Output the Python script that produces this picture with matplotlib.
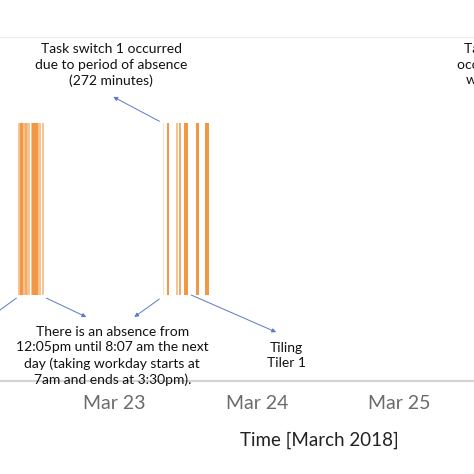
import matplotlib
matplotlib.use("Agg")
import matplotlib.pyplot as plt
import matplotlib.dates as mdates
import pandas as pd

# activity intervals (day, start, end, shade level 0..3)
days = ["2018-03-22"] * 10 + ["2018-03-23"] * 7
starts = ["07:55", "08:19", "08:46", "09:09", "09:22", "10:09", "10:19", "11:17", "11:53", "12:13",
          "08:13", "08:52", "10:22", "10:53", "11:43", "13:51", "15:22"]
ends = ["08:19", "08:46", "09:09", "09:22", "09:56", "10:19", "11:17", "11:43", "12:13", "12:20",
        "08:23", "09:19", "10:46", "11:20", "12:27", "14:14", "15:55"]
levels = [1, 3, 1, 2, 1, 1, 3, 1, 1, 0,
          0, 3, 1, 2, 3, 3, 3]

shades = ["#fbdfc2", "#f7c393", "#f4ab68", "#f29743"]

t0 = pd.to_datetime([d + " " + s for d, s in zip(days, starts)])
t1 = pd.to_datetime([d + " " + e for d, e in zip(days, ends)])
x0 = mdates.date2num(t0)
w = mdates.date2num(t1) - x0

plt.rcParams['font.family'] = ['Lato', 'DejaVu Sans']

fig = plt.figure(figsize=(4.74, 4.74), dpi=100)
ax = fig.add_axes([0, 0.1962, 1, 0.7257])

ax.barh(0.5, w, left=x0, height=0.5, color=[shades[l] for l in levels], linewidth=0)

ax.set_ylim(0, 1)
ax.set_xlim(mdates.date2num(pd.Timestamp("2018-03-22 04:53")),
            mdates.date2num(pd.Timestamp("2018-03-25 12:30")))
ax.xaxis.set_major_locator(mdates.DayLocator())
ax.xaxis.set_major_formatter(mdates.DateFormatter("%b %d"))
ax.tick_params(axis='x', length=0, pad=10, labelsize=14, labelcolor='#6b6b6b')
ax.set_yticks([])
for s in ['left', 'right']:
    ax.spines[s].set_visible(False)
ax.spines['top'].set_color('#ececec')
ax.spines['top'].set_linewidth(0.8)
ax.spines['bottom'].set_color('#d4d4d4')
ax.spines['bottom'].set_linewidth(1.6)

ax.set_xlabel("Time [March 2018]", fontsize=13.5, color='#222222', va='center')
ax.xaxis.set_label_coords(0.673, -0.172)

def d(s):
    return mdates.date2num(pd.Timestamp(s))

arrow = dict(arrowstyle='-|>', color='#5b78c9', lw=0.7, mutation_scale=6, shrinkA=0, shrinkB=0)
arrows = [
    (("2018-03-23 07:40", 0.755), ("2018-03-22 23:55", 0.826)),
    (("2018-03-22 07:38", 0.241), ("2018-03-22 01:46", 0.167)),
    (("2018-03-22 12:40", 0.241), ("2018-03-22 19:23", 0.186)),
    (("2018-03-23 07:38", 0.238), ("2018-03-23 03:26", 0.186)),
    (("2018-03-23 13:00", 0.250), ("2018-03-24 03:16", 0.142)),
]
for (ts, ys), (th, yh) in arrows:
    ax.annotate("", xy=(d(th), yh), xytext=(d(ts), ys), arrowprops=arrow, annotation_clip=False)

txt = dict(ha='center', va='center', fontsize=10, color='#111111', linespacing=1.35, clip_on=False)
ax.text(d("2018-03-22 23:35"), 0.919, "Task switch 1 occurred\ndue to period of absence\n(272 minutes)", **txt)
ax.text(d("2018-03-22 23:45"), 0.073,
        "There is an absence from\n12:05pm until 8:07 am the next\nday (taking workday starts at\n7am and ends at 3:30pm).", **txt)
ax.text(d("2018-03-24 05:00"), 0.074, "Tiling\nTiler 1", **txt)
ax.text(d("2018-03-25 17:52"), 0.919, "Task switch 2\noccurred due to\nworkday end", **txt)

fig.savefig("out.png", dpi=100)
